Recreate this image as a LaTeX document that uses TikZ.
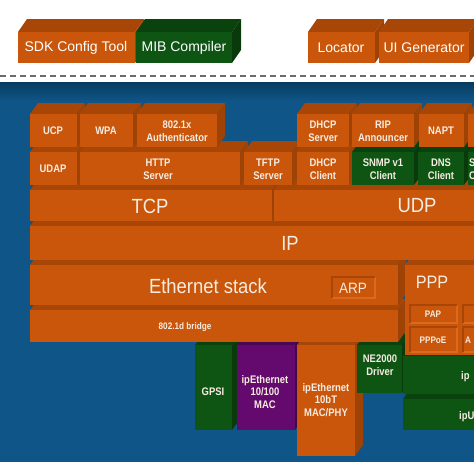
\documentclass[tikz,border=0pt]{standalone}
\usepackage{fontspec}
\setmainfont{Liberation Sans}
\newfontfamily\nb{Liberation Sans}[FakeStretch=0.86]
\newfontfamily\nbig{Liberation Sans}[FakeStretch=0.9]
\definecolor{orF}{HTML}{C9560A}
\definecolor{orT}{HTML}{A84607}
\definecolor{orS}{HTML}{9E4205}
\definecolor{orL}{HTML}{DB6A1E}
\definecolor{grF}{HTML}{0E5514}
\definecolor{grT}{HTML}{0A420E}
\definecolor{grS}{HTML}{083A0C}
\definecolor{puF}{HTML}{640A6E}
\definecolor{puT}{HTML}{4B0754}
\definecolor{puS}{HTML}{42064A}
\definecolor{bgB}{HTML}{0F5587}
\definecolor{bgD}{HTML}{083C5F}
\definecolor{txt}{HTML}{F6ECE2}
\newcommand\blk[5]{%
 \fill[#5T] (#1,#2) -- (#1+\dx,#2-\dy) -- (#3+\dx,#2-\dy) -- (#3,#2) -- cycle;
 \fill[#5S] (#3,#2) -- (#3+\dx,#2-\dy) -- (#3+\dx,#4-\dy) -- (#3,#4) -- cycle;
 \fill[#5F] (#1,#2) rectangle (#3,#4);}
\newcommand\inset[4]{%
 \draw[orL,line width=1.2pt] (#3,#2) -- (#3,#4) -- (#1,#4);
 \draw[orT,line width=1.2pt] (#1,#4) -- (#1,#2) -- (#3,#2);}
\tikzset{
 sm/.style={text=txt,font=\nb\bfseries\fontsize{11}{12.8}\selectfont,align=center,inner sep=0pt},
 tiny/.style={text=txt,font=\nb\bfseries\fontsize{9.5}{11}\selectfont,align=center,inner sep=0pt},
 big/.style={text=txt,font=\nbig\fontsize{20.5}{24}\selectfont,inner sep=0pt},
 tool/.style={text=white,font=\fontsize{14}{16}\selectfont,inner sep=0pt}
}
\begin{document}
\begin{tikzpicture}[x=1pt,y=-1pt]
\useasboundingbox (0,0) rectangle (474,474);
\clip (0,0) rectangle (474,474);
\fill[white] (0,0) rectangle (474,474);
\fill[bgB] (0,82) rectangle (474,462);
\shade[top color=bgD,bottom color=bgB] (0,82) rectangle (474,101);
\draw[gray!85!black,line width=1.3pt,dash pattern=on 6pt off 4pt] (0,76) -- (474,76);
% tools
\def\dx{9}\def\dy{13}
\blk{18}{32}{135}{63}{or}
\blk{136}{32}{232}{63}{gr}
\blk{308}{32}{375}{63}{or}
\blk{379}{32}{469}{63}{or}
\node[tool] (sdk) at (76,48) {SDK Config Tool};
\node[tool] (mib) at (184,48) {MIB Compiler};
\node[tool] (loc) at (341,48) {Locator};
\node[tool] (uig) at (424,48) {UI Generator};
% hardware
\def\dx{8}\def\dy{11}
\blk{195}{345}{232}{430}{gr}
\blk{237}{345}{295}{430}{pu}
\blk{297}{345}{355}{456}{or}
\blk{357}{345}{402}{393}{gr}
\blk{403}{399}{480}{430}{gr}
\blk{403}{356}{480}{394}{gr}
% stack
\blk{30}{310}{398}{342}{or}
\blk{30}{265}{398}{305}{or}
\blk{405}{265}{480}{355}{or}
\blk{30}{226}{480}{260}{or}
\blk{30}{190}{272}{221}{or}
\blk{274}{190}{480}{221}{or}
\blk{30}{152}{77}{185}{or}
\blk{80}{152}{240}{185}{or}
\blk{244}{152}{292}{185}{or}
\blk{297}{152}{349}{185}{or}
\blk{352}{152}{414}{185}{gr}
\blk{418}{152}{464}{185}{gr}
\blk{468}{152}{490}{185}{gr}
\blk{30}{114}{77}{147}{or}
\blk{80}{114}{133}{147}{or}
\blk{137}{114}{217}{147}{or}
\blk{297}{114}{349}{147}{or}
\blk{352}{114}{414}{147}{or}
\blk{419}{114}{464}{147}{or}
\blk{468}{114}{490}{147}{or}
% insets
\inset{332}{277}{375}{298}
\inset{410}{305}{457}{323}
\inset{463}{305}{490}{323}
\inset{410}{327}{457}{352}
\inset{463}{327}{490}{352}
% labels
\node[sm] (ucp) at (53,131) {UCP};
\node[sm] (wpa) at (106,131) {WPA};
\node[sm] (auth) at (177,131) {802.1x\\Authenticator};
\node[sm] (dhcps) at (323,131) {DHCP\\Server};
\node[sm] (rip) at (383,131) {RIP\\Announcer};
\node[sm] (napt) at (441,131) {NAPT};
\node[sm] (udap) at (53,169) {UDAP};
\node[sm] (http) at (158,169) {HTTP\\Server};
\node[sm] (tftp) at (268,169) {TFTP\\Server};
\node[sm] (dhcpc) at (323,169) {DHCP\\Client};
\node[sm] (snmp) at (383,169) {SNMP v1\\Client};
\node[sm] (dns) at (441,169) {DNS\\Client};
\node[sm,anchor=west,align=left] (cuts) at (469,169) {S\\C};
\node[big] (tcp) at (150,206) {TCP};
\node[big] (udp) at (417,206) {UDP};
\node[big] (ip) at (290,243) {IP};
\node[big] (eth) at (208,286) {Ethernet stack};
\node[text=txt,font=\nbig\fontsize{15}{18}\selectfont,inner sep=0pt] (arp) at (353,288) {ARP};
\node[text=txt,font=\nbig\fontsize{18}{20}\selectfont,inner sep=0pt] (ppp) at (432,282) {PPP};
\node[tiny] (pap) at (433,314) {PAP};
\node[tiny] (pppoe) at (433,340) {PPPoE};
\node[tiny,anchor=west] (cuta) at (465,340) {A};
\node[tiny] (bridge) at (185,327) {802.1d bridge};
\node[sm] (gpsi) at (213,392) {GPSI};
\node[sm] (mac) at (265,392) {ipEthernet\\10/100\\MAC};
\node[sm] (phy) at (326,400) {ipEthernet\\10bT\\MAC/PHY};
\node[sm] (ne) at (380,365) {NE2000\\Driver};
\node[sm,anchor=west] (cutip) at (461,377) {ip};
\node[sm,anchor=west] (cutipu) at (459,417) {ipU};
\end{tikzpicture}
\end{document}
